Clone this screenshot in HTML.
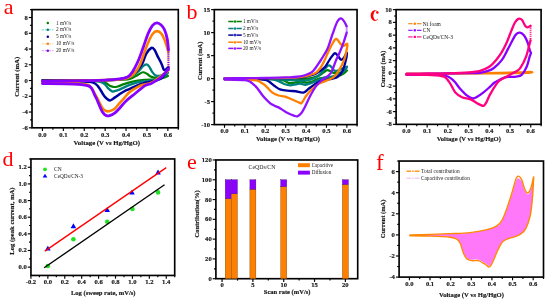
<!DOCTYPE html>
<html><head><meta charset="utf-8"><style>
html,body{margin:0;padding:0;background:#fff;width:550px;height:302px;overflow:hidden;}
svg{display:block;will-change:transform;}
</style></head><body>
<svg width="550" height="302" viewBox="0 0 550 302">
<rect width="550" height="302" fill="#fff"/>
<text x="8.7" y="6" font-size="22" font-weight="normal" text-anchor="middle" fill="#ff0000" font-family='"Liberation Serif", serif' dominant-baseline="central">a</text>
<text x="191.9" y="11.3" font-size="22" font-weight="normal" text-anchor="middle" fill="#ff0000" font-family='"Liberation Serif", serif' dominant-baseline="central">b</text>
<path d="M377.58,11.57 A4.15,5.35 0 1 0 377.88,19.13 L377.62,18.53 A2.45,4.45 0 1 1 377.37,12.14 Z" fill="#ff0000"/>
<circle cx="377.35" cy="12.55" r="1.25" fill="#ff0000"/>
<text x="8" y="158.3" font-size="22" font-weight="normal" text-anchor="middle" fill="#ff0000" font-family='"Liberation Serif", serif' dominant-baseline="central">d</text>
<text x="192" y="161.4" font-size="22" font-weight="normal" text-anchor="middle" fill="#ff0000" font-family='"Liberation Serif", serif' dominant-baseline="central">e</text>
<text x="379.8" y="162.4" font-size="23" font-weight="normal" text-anchor="middle" fill="#ff0000" font-family='"Liberation Serif", serif' dominant-baseline="central">f</text>
<line x1="42.45" y1="127.8" x2="42.45" y2="131" stroke="#000" stroke-width="1.15"/>
<text x="42.45" y="134" font-size="6.6" font-weight="bold" text-anchor="middle" fill="#1a1a1a" font-family='"Liberation Serif", serif' dominant-baseline="central" stroke="#1a1a1a" stroke-width="0.18">0.0</text>
<line x1="63.35" y1="127.8" x2="63.35" y2="131" stroke="#000" stroke-width="1.15"/>
<text x="63.35" y="134" font-size="6.6" font-weight="bold" text-anchor="middle" fill="#1a1a1a" font-family='"Liberation Serif", serif' dominant-baseline="central" stroke="#1a1a1a" stroke-width="0.18">0.1</text>
<line x1="84.25" y1="127.8" x2="84.25" y2="131" stroke="#000" stroke-width="1.15"/>
<text x="84.25" y="134" font-size="6.6" font-weight="bold" text-anchor="middle" fill="#1a1a1a" font-family='"Liberation Serif", serif' dominant-baseline="central" stroke="#1a1a1a" stroke-width="0.18">0.2</text>
<line x1="105.15" y1="127.8" x2="105.15" y2="131" stroke="#000" stroke-width="1.15"/>
<text x="105.15" y="134" font-size="6.6" font-weight="bold" text-anchor="middle" fill="#1a1a1a" font-family='"Liberation Serif", serif' dominant-baseline="central" stroke="#1a1a1a" stroke-width="0.18">0.3</text>
<line x1="126.05" y1="127.8" x2="126.05" y2="131" stroke="#000" stroke-width="1.15"/>
<text x="126.05" y="134" font-size="6.6" font-weight="bold" text-anchor="middle" fill="#1a1a1a" font-family='"Liberation Serif", serif' dominant-baseline="central" stroke="#1a1a1a" stroke-width="0.18">0.4</text>
<line x1="146.95" y1="127.8" x2="146.95" y2="131" stroke="#000" stroke-width="1.15"/>
<text x="146.95" y="134" font-size="6.6" font-weight="bold" text-anchor="middle" fill="#1a1a1a" font-family='"Liberation Serif", serif' dominant-baseline="central" stroke="#1a1a1a" stroke-width="0.18">0.5</text>
<line x1="167.85" y1="127.8" x2="167.85" y2="131" stroke="#000" stroke-width="1.15"/>
<text x="167.85" y="134" font-size="6.6" font-weight="bold" text-anchor="middle" fill="#1a1a1a" font-family='"Liberation Serif", serif' dominant-baseline="central" stroke="#1a1a1a" stroke-width="0.18">0.6</text>
<line x1="52.9" y1="127.8" x2="52.9" y2="129.7" stroke="#000" stroke-width="1.15"/>
<line x1="73.8" y1="127.8" x2="73.8" y2="129.7" stroke="#000" stroke-width="1.15"/>
<line x1="94.7" y1="127.8" x2="94.7" y2="129.7" stroke="#000" stroke-width="1.15"/>
<line x1="115.6" y1="127.8" x2="115.6" y2="129.7" stroke="#000" stroke-width="1.15"/>
<line x1="136.5" y1="127.8" x2="136.5" y2="129.7" stroke="#000" stroke-width="1.15"/>
<line x1="157.4" y1="127.8" x2="157.4" y2="129.7" stroke="#000" stroke-width="1.15"/>
<line x1="178.3" y1="127.8" x2="178.3" y2="129.7" stroke="#000" stroke-width="1.15"/>
<line x1="32" y1="127.8" x2="28.8" y2="127.8" stroke="#000" stroke-width="1.15"/>
<text x="27.8" y="127.3" font-size="6.6" font-weight="bold" text-anchor="end" fill="#1a1a1a" font-family='"Liberation Serif", serif' dominant-baseline="central" stroke="#1a1a1a" stroke-width="0.18">-6</text>
<line x1="32" y1="112.04" x2="28.8" y2="112.04" stroke="#000" stroke-width="1.15"/>
<text x="27.8" y="111.54" font-size="6.6" font-weight="bold" text-anchor="end" fill="#1a1a1a" font-family='"Liberation Serif", serif' dominant-baseline="central" stroke="#1a1a1a" stroke-width="0.18">-4</text>
<line x1="32" y1="96.29" x2="28.8" y2="96.29" stroke="#000" stroke-width="1.15"/>
<text x="27.8" y="95.79" font-size="6.6" font-weight="bold" text-anchor="end" fill="#1a1a1a" font-family='"Liberation Serif", serif' dominant-baseline="central" stroke="#1a1a1a" stroke-width="0.18">-2</text>
<line x1="32" y1="80.53" x2="28.8" y2="80.53" stroke="#000" stroke-width="1.15"/>
<text x="27.8" y="80.03" font-size="6.6" font-weight="bold" text-anchor="end" fill="#1a1a1a" font-family='"Liberation Serif", serif' dominant-baseline="central" stroke="#1a1a1a" stroke-width="0.18">0</text>
<line x1="32" y1="64.78" x2="28.8" y2="64.78" stroke="#000" stroke-width="1.15"/>
<text x="27.8" y="64.28" font-size="6.6" font-weight="bold" text-anchor="end" fill="#1a1a1a" font-family='"Liberation Serif", serif' dominant-baseline="central" stroke="#1a1a1a" stroke-width="0.18">2</text>
<line x1="32" y1="49.02" x2="28.8" y2="49.02" stroke="#000" stroke-width="1.15"/>
<text x="27.8" y="48.52" font-size="6.6" font-weight="bold" text-anchor="end" fill="#1a1a1a" font-family='"Liberation Serif", serif' dominant-baseline="central" stroke="#1a1a1a" stroke-width="0.18">4</text>
<line x1="32" y1="33.26" x2="28.8" y2="33.26" stroke="#000" stroke-width="1.15"/>
<text x="27.8" y="32.76" font-size="6.6" font-weight="bold" text-anchor="end" fill="#1a1a1a" font-family='"Liberation Serif", serif' dominant-baseline="central" stroke="#1a1a1a" stroke-width="0.18">6</text>
<line x1="32" y1="17.51" x2="28.8" y2="17.51" stroke="#000" stroke-width="1.15"/>
<text x="27.8" y="17.01" font-size="6.6" font-weight="bold" text-anchor="end" fill="#1a1a1a" font-family='"Liberation Serif", serif' dominant-baseline="central" stroke="#1a1a1a" stroke-width="0.18">8</text>
<line x1="32" y1="119.92" x2="30.1" y2="119.92" stroke="#000" stroke-width="1.15"/>
<line x1="32" y1="104.17" x2="30.1" y2="104.17" stroke="#000" stroke-width="1.15"/>
<line x1="32" y1="88.41" x2="30.1" y2="88.41" stroke="#000" stroke-width="1.15"/>
<line x1="32" y1="72.65" x2="30.1" y2="72.65" stroke="#000" stroke-width="1.15"/>
<line x1="32" y1="56.9" x2="30.1" y2="56.9" stroke="#000" stroke-width="1.15"/>
<line x1="32" y1="41.14" x2="30.1" y2="41.14" stroke="#000" stroke-width="1.15"/>
<line x1="32" y1="25.39" x2="30.1" y2="25.39" stroke="#000" stroke-width="1.15"/>
<line x1="32" y1="9.63" x2="30.1" y2="9.63" stroke="#000" stroke-width="1.15"/>
<rect x="32" y="9.63" width="146.3" height="118.17" fill="none" stroke="#000" stroke-width="1.65"/>
<text x="106.8" y="142.7" font-size="7.1" font-weight="bold" text-anchor="middle" fill="#1a1a1a" font-family='"Liberation Serif", serif' dominant-baseline="central" textLength="66.4" lengthAdjust="spacingAndGlyphs" stroke="#1a1a1a" stroke-width="0.18">Voltage (V vs Hg/HgO)</text>
<text x="17.3" y="76.8" font-size="7.0" font-weight="bold" text-anchor="middle" fill="#1a1a1a" font-family='"Liberation Serif", serif' dominant-baseline="central" textLength="40" lengthAdjust="spacingAndGlyphs" stroke="#1a1a1a" stroke-width="0.18" transform="rotate(-90 17.3 76.8)">Current (mA)</text>
<line x1="224.5" y1="124.6" x2="224.5" y2="127.8" stroke="#000" stroke-width="1.15"/>
<text x="224.5" y="130.8" font-size="6.6" font-weight="bold" text-anchor="middle" fill="#1a1a1a" font-family='"Liberation Serif", serif' dominant-baseline="central" stroke="#1a1a1a" stroke-width="0.18">0.0</text>
<line x1="244.89" y1="124.6" x2="244.89" y2="127.8" stroke="#000" stroke-width="1.15"/>
<text x="244.89" y="130.8" font-size="6.6" font-weight="bold" text-anchor="middle" fill="#1a1a1a" font-family='"Liberation Serif", serif' dominant-baseline="central" stroke="#1a1a1a" stroke-width="0.18">0.1</text>
<line x1="265.28" y1="124.6" x2="265.28" y2="127.8" stroke="#000" stroke-width="1.15"/>
<text x="265.28" y="130.8" font-size="6.6" font-weight="bold" text-anchor="middle" fill="#1a1a1a" font-family='"Liberation Serif", serif' dominant-baseline="central" stroke="#1a1a1a" stroke-width="0.18">0.2</text>
<line x1="285.68" y1="124.6" x2="285.68" y2="127.8" stroke="#000" stroke-width="1.15"/>
<text x="285.68" y="130.8" font-size="6.6" font-weight="bold" text-anchor="middle" fill="#1a1a1a" font-family='"Liberation Serif", serif' dominant-baseline="central" stroke="#1a1a1a" stroke-width="0.18">0.3</text>
<line x1="306.07" y1="124.6" x2="306.07" y2="127.8" stroke="#000" stroke-width="1.15"/>
<text x="306.07" y="130.8" font-size="6.6" font-weight="bold" text-anchor="middle" fill="#1a1a1a" font-family='"Liberation Serif", serif' dominant-baseline="central" stroke="#1a1a1a" stroke-width="0.18">0.4</text>
<line x1="326.46" y1="124.6" x2="326.46" y2="127.8" stroke="#000" stroke-width="1.15"/>
<text x="326.46" y="130.8" font-size="6.6" font-weight="bold" text-anchor="middle" fill="#1a1a1a" font-family='"Liberation Serif", serif' dominant-baseline="central" stroke="#1a1a1a" stroke-width="0.18">0.5</text>
<line x1="346.85" y1="124.6" x2="346.85" y2="127.8" stroke="#000" stroke-width="1.15"/>
<text x="346.85" y="130.8" font-size="6.6" font-weight="bold" text-anchor="middle" fill="#1a1a1a" font-family='"Liberation Serif", serif' dominant-baseline="central" stroke="#1a1a1a" stroke-width="0.18">0.6</text>
<line x1="234.69" y1="124.6" x2="234.69" y2="126.5" stroke="#000" stroke-width="1.15"/>
<line x1="255.09" y1="124.6" x2="255.09" y2="126.5" stroke="#000" stroke-width="1.15"/>
<line x1="275.48" y1="124.6" x2="275.48" y2="126.5" stroke="#000" stroke-width="1.15"/>
<line x1="295.87" y1="124.6" x2="295.87" y2="126.5" stroke="#000" stroke-width="1.15"/>
<line x1="316.26" y1="124.6" x2="316.26" y2="126.5" stroke="#000" stroke-width="1.15"/>
<line x1="336.66" y1="124.6" x2="336.66" y2="126.5" stroke="#000" stroke-width="1.15"/>
<line x1="357.05" y1="124.6" x2="357.05" y2="126.5" stroke="#000" stroke-width="1.15"/>
<line x1="214.3" y1="124.6" x2="211.1" y2="124.6" stroke="#000" stroke-width="1.15"/>
<text x="210.1" y="124.1" font-size="6.6" font-weight="bold" text-anchor="end" fill="#1a1a1a" font-family='"Liberation Serif", serif' dominant-baseline="central" stroke="#1a1a1a" stroke-width="0.18">-10</text>
<line x1="214.3" y1="101.61" x2="211.1" y2="101.61" stroke="#000" stroke-width="1.15"/>
<text x="210.1" y="101.11" font-size="6.6" font-weight="bold" text-anchor="end" fill="#1a1a1a" font-family='"Liberation Serif", serif' dominant-baseline="central" stroke="#1a1a1a" stroke-width="0.18">-5</text>
<line x1="214.3" y1="78.61" x2="211.1" y2="78.61" stroke="#000" stroke-width="1.15"/>
<text x="210.1" y="78.11" font-size="6.6" font-weight="bold" text-anchor="end" fill="#1a1a1a" font-family='"Liberation Serif", serif' dominant-baseline="central" stroke="#1a1a1a" stroke-width="0.18">0</text>
<line x1="214.3" y1="55.62" x2="211.1" y2="55.62" stroke="#000" stroke-width="1.15"/>
<text x="210.1" y="55.12" font-size="6.6" font-weight="bold" text-anchor="end" fill="#1a1a1a" font-family='"Liberation Serif", serif' dominant-baseline="central" stroke="#1a1a1a" stroke-width="0.18">5</text>
<line x1="214.3" y1="32.62" x2="211.1" y2="32.62" stroke="#000" stroke-width="1.15"/>
<text x="210.1" y="32.12" font-size="6.6" font-weight="bold" text-anchor="end" fill="#1a1a1a" font-family='"Liberation Serif", serif' dominant-baseline="central" stroke="#1a1a1a" stroke-width="0.18">10</text>
<line x1="214.3" y1="9.63" x2="211.1" y2="9.63" stroke="#000" stroke-width="1.15"/>
<text x="210.1" y="9.13" font-size="6.6" font-weight="bold" text-anchor="end" fill="#1a1a1a" font-family='"Liberation Serif", serif' dominant-baseline="central" stroke="#1a1a1a" stroke-width="0.18">15</text>
<line x1="214.3" y1="113.1" x2="212.4" y2="113.1" stroke="#000" stroke-width="1.15"/>
<line x1="214.3" y1="90.11" x2="212.4" y2="90.11" stroke="#000" stroke-width="1.15"/>
<line x1="214.3" y1="67.11" x2="212.4" y2="67.11" stroke="#000" stroke-width="1.15"/>
<line x1="214.3" y1="44.12" x2="212.4" y2="44.12" stroke="#000" stroke-width="1.15"/>
<line x1="214.3" y1="21.13" x2="212.4" y2="21.13" stroke="#000" stroke-width="1.15"/>
<rect x="214.3" y="9.63" width="142.75" height="114.97" fill="none" stroke="#000" stroke-width="1.65"/>
<text x="288" y="139" font-size="7.1" font-weight="bold" text-anchor="middle" fill="#1a1a1a" font-family='"Liberation Serif", serif' dominant-baseline="central" textLength="64" lengthAdjust="spacingAndGlyphs" stroke="#1a1a1a" stroke-width="0.18">Voltage (V vs Hg/HgO)</text>
<text x="200.3" y="60.8" font-size="7.0" font-weight="bold" text-anchor="middle" fill="#1a1a1a" font-family='"Liberation Serif", serif' dominant-baseline="central" textLength="38.4" lengthAdjust="spacingAndGlyphs" stroke="#1a1a1a" stroke-width="0.18" transform="rotate(-90 200.3 60.8)">Current (mA)</text>
<line x1="406.46" y1="124.35" x2="406.46" y2="127.55" stroke="#000" stroke-width="1.15"/>
<text x="406.46" y="130.55" font-size="6.6" font-weight="bold" text-anchor="middle" fill="#1a1a1a" font-family='"Liberation Serif", serif' dominant-baseline="central" stroke="#1a1a1a" stroke-width="0.18">0.0</text>
<line x1="427.17" y1="124.35" x2="427.17" y2="127.55" stroke="#000" stroke-width="1.15"/>
<text x="427.17" y="130.55" font-size="6.6" font-weight="bold" text-anchor="middle" fill="#1a1a1a" font-family='"Liberation Serif", serif' dominant-baseline="central" stroke="#1a1a1a" stroke-width="0.18">0.1</text>
<line x1="447.89" y1="124.35" x2="447.89" y2="127.55" stroke="#000" stroke-width="1.15"/>
<text x="447.89" y="130.55" font-size="6.6" font-weight="bold" text-anchor="middle" fill="#1a1a1a" font-family='"Liberation Serif", serif' dominant-baseline="central" stroke="#1a1a1a" stroke-width="0.18">0.2</text>
<line x1="468.6" y1="124.35" x2="468.6" y2="127.55" stroke="#000" stroke-width="1.15"/>
<text x="468.6" y="130.55" font-size="6.6" font-weight="bold" text-anchor="middle" fill="#1a1a1a" font-family='"Liberation Serif", serif' dominant-baseline="central" stroke="#1a1a1a" stroke-width="0.18">0.3</text>
<line x1="489.31" y1="124.35" x2="489.31" y2="127.55" stroke="#000" stroke-width="1.15"/>
<text x="489.31" y="130.55" font-size="6.6" font-weight="bold" text-anchor="middle" fill="#1a1a1a" font-family='"Liberation Serif", serif' dominant-baseline="central" stroke="#1a1a1a" stroke-width="0.18">0.4</text>
<line x1="510.03" y1="124.35" x2="510.03" y2="127.55" stroke="#000" stroke-width="1.15"/>
<text x="510.03" y="130.55" font-size="6.6" font-weight="bold" text-anchor="middle" fill="#1a1a1a" font-family='"Liberation Serif", serif' dominant-baseline="central" stroke="#1a1a1a" stroke-width="0.18">0.5</text>
<line x1="530.74" y1="124.35" x2="530.74" y2="127.55" stroke="#000" stroke-width="1.15"/>
<text x="530.74" y="130.55" font-size="6.6" font-weight="bold" text-anchor="middle" fill="#1a1a1a" font-family='"Liberation Serif", serif' dominant-baseline="central" stroke="#1a1a1a" stroke-width="0.18">0.6</text>
<line x1="416.81" y1="124.35" x2="416.81" y2="126.25" stroke="#000" stroke-width="1.15"/>
<line x1="437.53" y1="124.35" x2="437.53" y2="126.25" stroke="#000" stroke-width="1.15"/>
<line x1="458.24" y1="124.35" x2="458.24" y2="126.25" stroke="#000" stroke-width="1.15"/>
<line x1="478.96" y1="124.35" x2="478.96" y2="126.25" stroke="#000" stroke-width="1.15"/>
<line x1="499.67" y1="124.35" x2="499.67" y2="126.25" stroke="#000" stroke-width="1.15"/>
<line x1="520.39" y1="124.35" x2="520.39" y2="126.25" stroke="#000" stroke-width="1.15"/>
<line x1="541.1" y1="124.35" x2="541.1" y2="126.25" stroke="#000" stroke-width="1.15"/>
<line x1="396.1" y1="124.35" x2="392.9" y2="124.35" stroke="#000" stroke-width="1.15"/>
<text x="391.9" y="123.85" font-size="6.6" font-weight="bold" text-anchor="end" fill="#1a1a1a" font-family='"Liberation Serif", serif' dominant-baseline="central" stroke="#1a1a1a" stroke-width="0.18">-8</text>
<line x1="396.1" y1="111.61" x2="392.9" y2="111.61" stroke="#000" stroke-width="1.15"/>
<text x="391.9" y="111.11" font-size="6.6" font-weight="bold" text-anchor="end" fill="#1a1a1a" font-family='"Liberation Serif", serif' dominant-baseline="central" stroke="#1a1a1a" stroke-width="0.18">-6</text>
<line x1="396.1" y1="98.86" x2="392.9" y2="98.86" stroke="#000" stroke-width="1.15"/>
<text x="391.9" y="98.36" font-size="6.6" font-weight="bold" text-anchor="end" fill="#1a1a1a" font-family='"Liberation Serif", serif' dominant-baseline="central" stroke="#1a1a1a" stroke-width="0.18">-4</text>
<line x1="396.1" y1="86.12" x2="392.9" y2="86.12" stroke="#000" stroke-width="1.15"/>
<text x="391.9" y="85.62" font-size="6.6" font-weight="bold" text-anchor="end" fill="#1a1a1a" font-family='"Liberation Serif", serif' dominant-baseline="central" stroke="#1a1a1a" stroke-width="0.18">-2</text>
<line x1="396.1" y1="73.37" x2="392.9" y2="73.37" stroke="#000" stroke-width="1.15"/>
<text x="391.9" y="72.87" font-size="6.6" font-weight="bold" text-anchor="end" fill="#1a1a1a" font-family='"Liberation Serif", serif' dominant-baseline="central" stroke="#1a1a1a" stroke-width="0.18">0</text>
<line x1="396.1" y1="60.63" x2="392.9" y2="60.63" stroke="#000" stroke-width="1.15"/>
<text x="391.9" y="60.13" font-size="6.6" font-weight="bold" text-anchor="end" fill="#1a1a1a" font-family='"Liberation Serif", serif' dominant-baseline="central" stroke="#1a1a1a" stroke-width="0.18">2</text>
<line x1="396.1" y1="47.88" x2="392.9" y2="47.88" stroke="#000" stroke-width="1.15"/>
<text x="391.9" y="47.38" font-size="6.6" font-weight="bold" text-anchor="end" fill="#1a1a1a" font-family='"Liberation Serif", serif' dominant-baseline="central" stroke="#1a1a1a" stroke-width="0.18">4</text>
<line x1="396.1" y1="35.14" x2="392.9" y2="35.14" stroke="#000" stroke-width="1.15"/>
<text x="391.9" y="34.64" font-size="6.6" font-weight="bold" text-anchor="end" fill="#1a1a1a" font-family='"Liberation Serif", serif' dominant-baseline="central" stroke="#1a1a1a" stroke-width="0.18">6</text>
<line x1="396.1" y1="22.39" x2="392.9" y2="22.39" stroke="#000" stroke-width="1.15"/>
<text x="391.9" y="21.89" font-size="6.6" font-weight="bold" text-anchor="end" fill="#1a1a1a" font-family='"Liberation Serif", serif' dominant-baseline="central" stroke="#1a1a1a" stroke-width="0.18">8</text>
<line x1="396.1" y1="9.65" x2="392.9" y2="9.65" stroke="#000" stroke-width="1.15"/>
<text x="391.9" y="9.15" font-size="6.6" font-weight="bold" text-anchor="end" fill="#1a1a1a" font-family='"Liberation Serif", serif' dominant-baseline="central" stroke="#1a1a1a" stroke-width="0.18">10</text>
<line x1="396.1" y1="117.98" x2="394.2" y2="117.98" stroke="#000" stroke-width="1.15"/>
<line x1="396.1" y1="105.23" x2="394.2" y2="105.23" stroke="#000" stroke-width="1.15"/>
<line x1="396.1" y1="92.49" x2="394.2" y2="92.49" stroke="#000" stroke-width="1.15"/>
<line x1="396.1" y1="79.74" x2="394.2" y2="79.74" stroke="#000" stroke-width="1.15"/>
<line x1="396.1" y1="67" x2="394.2" y2="67" stroke="#000" stroke-width="1.15"/>
<line x1="396.1" y1="54.26" x2="394.2" y2="54.26" stroke="#000" stroke-width="1.15"/>
<line x1="396.1" y1="41.51" x2="394.2" y2="41.51" stroke="#000" stroke-width="1.15"/>
<line x1="396.1" y1="28.77" x2="394.2" y2="28.77" stroke="#000" stroke-width="1.15"/>
<line x1="396.1" y1="16.02" x2="394.2" y2="16.02" stroke="#000" stroke-width="1.15"/>
<rect x="396.1" y="9.65" width="145" height="114.7" fill="none" stroke="#000" stroke-width="1.65"/>
<text x="468.8" y="139" font-size="7.1" font-weight="bold" text-anchor="middle" fill="#1a1a1a" font-family='"Liberation Serif", serif' dominant-baseline="central" textLength="64.2" lengthAdjust="spacingAndGlyphs" stroke="#1a1a1a" stroke-width="0.18">Voltage (V vs Hg/HgO)</text>
<text x="383.3" y="69" font-size="7.0" font-weight="bold" text-anchor="middle" fill="#1a1a1a" font-family='"Liberation Serif", serif' dominant-baseline="central" textLength="36.4" lengthAdjust="spacingAndGlyphs" stroke="#1a1a1a" stroke-width="0.18" transform="rotate(-90 383.3 69)">Current (mA)</text>
<line x1="30.95" y1="275.45" x2="30.95" y2="278.65" stroke="#000" stroke-width="1.15"/>
<text x="30.95" y="281.65" font-size="6.6" font-weight="bold" text-anchor="middle" fill="#1a1a1a" font-family='"Liberation Serif", serif' dominant-baseline="central" stroke="#1a1a1a" stroke-width="0.18">-0.2</text>
<line x1="47.86" y1="275.45" x2="47.86" y2="278.65" stroke="#000" stroke-width="1.15"/>
<text x="47.86" y="281.65" font-size="6.6" font-weight="bold" text-anchor="middle" fill="#1a1a1a" font-family='"Liberation Serif", serif' dominant-baseline="central" stroke="#1a1a1a" stroke-width="0.18">0.0</text>
<line x1="64.77" y1="275.45" x2="64.77" y2="278.65" stroke="#000" stroke-width="1.15"/>
<text x="64.77" y="281.65" font-size="6.6" font-weight="bold" text-anchor="middle" fill="#1a1a1a" font-family='"Liberation Serif", serif' dominant-baseline="central" stroke="#1a1a1a" stroke-width="0.18">0.2</text>
<line x1="81.69" y1="275.45" x2="81.69" y2="278.65" stroke="#000" stroke-width="1.15"/>
<text x="81.69" y="281.65" font-size="6.6" font-weight="bold" text-anchor="middle" fill="#1a1a1a" font-family='"Liberation Serif", serif' dominant-baseline="central" stroke="#1a1a1a" stroke-width="0.18">0.4</text>
<line x1="98.6" y1="275.45" x2="98.6" y2="278.65" stroke="#000" stroke-width="1.15"/>
<text x="98.6" y="281.65" font-size="6.6" font-weight="bold" text-anchor="middle" fill="#1a1a1a" font-family='"Liberation Serif", serif' dominant-baseline="central" stroke="#1a1a1a" stroke-width="0.18">0.6</text>
<line x1="115.51" y1="275.45" x2="115.51" y2="278.65" stroke="#000" stroke-width="1.15"/>
<text x="115.51" y="281.65" font-size="6.6" font-weight="bold" text-anchor="middle" fill="#1a1a1a" font-family='"Liberation Serif", serif' dominant-baseline="central" stroke="#1a1a1a" stroke-width="0.18">0.8</text>
<line x1="132.42" y1="275.45" x2="132.42" y2="278.65" stroke="#000" stroke-width="1.15"/>
<text x="132.42" y="281.65" font-size="6.6" font-weight="bold" text-anchor="middle" fill="#1a1a1a" font-family='"Liberation Serif", serif' dominant-baseline="central" stroke="#1a1a1a" stroke-width="0.18">1.0</text>
<line x1="149.33" y1="275.45" x2="149.33" y2="278.65" stroke="#000" stroke-width="1.15"/>
<text x="149.33" y="281.65" font-size="6.6" font-weight="bold" text-anchor="middle" fill="#1a1a1a" font-family='"Liberation Serif", serif' dominant-baseline="central" stroke="#1a1a1a" stroke-width="0.18">1.2</text>
<line x1="166.24" y1="275.45" x2="166.24" y2="278.65" stroke="#000" stroke-width="1.15"/>
<text x="166.24" y="281.65" font-size="6.6" font-weight="bold" text-anchor="middle" fill="#1a1a1a" font-family='"Liberation Serif", serif' dominant-baseline="central" stroke="#1a1a1a" stroke-width="0.18">1.4</text>
<line x1="39.41" y1="275.45" x2="39.41" y2="277.35" stroke="#000" stroke-width="1.15"/>
<line x1="56.32" y1="275.45" x2="56.32" y2="277.35" stroke="#000" stroke-width="1.15"/>
<line x1="73.23" y1="275.45" x2="73.23" y2="277.35" stroke="#000" stroke-width="1.15"/>
<line x1="90.14" y1="275.45" x2="90.14" y2="277.35" stroke="#000" stroke-width="1.15"/>
<line x1="107.05" y1="275.45" x2="107.05" y2="277.35" stroke="#000" stroke-width="1.15"/>
<line x1="123.96" y1="275.45" x2="123.96" y2="277.35" stroke="#000" stroke-width="1.15"/>
<line x1="140.88" y1="275.45" x2="140.88" y2="277.35" stroke="#000" stroke-width="1.15"/>
<line x1="157.79" y1="275.45" x2="157.79" y2="277.35" stroke="#000" stroke-width="1.15"/>
<line x1="174.7" y1="275.45" x2="174.7" y2="277.35" stroke="#000" stroke-width="1.15"/>
<line x1="30.95" y1="267.13" x2="27.75" y2="267.13" stroke="#000" stroke-width="1.15"/>
<text x="26.75" y="266.63" font-size="6.6" font-weight="bold" text-anchor="end" fill="#1a1a1a" font-family='"Liberation Serif", serif' dominant-baseline="central" stroke="#1a1a1a" stroke-width="0.18">0.0</text>
<line x1="30.95" y1="250.49" x2="27.75" y2="250.49" stroke="#000" stroke-width="1.15"/>
<text x="26.75" y="249.99" font-size="6.6" font-weight="bold" text-anchor="end" fill="#1a1a1a" font-family='"Liberation Serif", serif' dominant-baseline="central" stroke="#1a1a1a" stroke-width="0.18">0.2</text>
<line x1="30.95" y1="233.84" x2="27.75" y2="233.84" stroke="#000" stroke-width="1.15"/>
<text x="26.75" y="233.34" font-size="6.6" font-weight="bold" text-anchor="end" fill="#1a1a1a" font-family='"Liberation Serif", serif' dominant-baseline="central" stroke="#1a1a1a" stroke-width="0.18">0.4</text>
<line x1="30.95" y1="217.2" x2="27.75" y2="217.2" stroke="#000" stroke-width="1.15"/>
<text x="26.75" y="216.7" font-size="6.6" font-weight="bold" text-anchor="end" fill="#1a1a1a" font-family='"Liberation Serif", serif' dominant-baseline="central" stroke="#1a1a1a" stroke-width="0.18">0.6</text>
<line x1="30.95" y1="200.56" x2="27.75" y2="200.56" stroke="#000" stroke-width="1.15"/>
<text x="26.75" y="200.06" font-size="6.6" font-weight="bold" text-anchor="end" fill="#1a1a1a" font-family='"Liberation Serif", serif' dominant-baseline="central" stroke="#1a1a1a" stroke-width="0.18">0.8</text>
<line x1="30.95" y1="183.91" x2="27.75" y2="183.91" stroke="#000" stroke-width="1.15"/>
<text x="26.75" y="183.41" font-size="6.6" font-weight="bold" text-anchor="end" fill="#1a1a1a" font-family='"Liberation Serif", serif' dominant-baseline="central" stroke="#1a1a1a" stroke-width="0.18">1.0</text>
<line x1="30.95" y1="167.27" x2="27.75" y2="167.27" stroke="#000" stroke-width="1.15"/>
<text x="26.75" y="166.77" font-size="6.6" font-weight="bold" text-anchor="end" fill="#1a1a1a" font-family='"Liberation Serif", serif' dominant-baseline="central" stroke="#1a1a1a" stroke-width="0.18">1.2</text>
<line x1="30.95" y1="258.81" x2="29.05" y2="258.81" stroke="#000" stroke-width="1.15"/>
<line x1="30.95" y1="242.16" x2="29.05" y2="242.16" stroke="#000" stroke-width="1.15"/>
<line x1="30.95" y1="225.52" x2="29.05" y2="225.52" stroke="#000" stroke-width="1.15"/>
<line x1="30.95" y1="208.88" x2="29.05" y2="208.88" stroke="#000" stroke-width="1.15"/>
<line x1="30.95" y1="192.24" x2="29.05" y2="192.24" stroke="#000" stroke-width="1.15"/>
<line x1="30.95" y1="175.59" x2="29.05" y2="175.59" stroke="#000" stroke-width="1.15"/>
<line x1="30.95" y1="158.95" x2="29.05" y2="158.95" stroke="#000" stroke-width="1.15"/>
<rect x="30.95" y="158.95" width="143.75" height="116.5" fill="none" stroke="#000" stroke-width="1.65"/>
<text x="103.2" y="292.8" font-size="7.1" font-weight="bold" text-anchor="middle" fill="#1a1a1a" font-family='"Liberation Serif", serif' dominant-baseline="central" textLength="64.6" lengthAdjust="spacingAndGlyphs" stroke="#1a1a1a" stroke-width="0.18">Log (sweep rate, mV/s)</text>
<text x="11.6" y="221.1" font-size="7.0" font-weight="bold" text-anchor="middle" fill="#1a1a1a" font-family='"Liberation Serif", serif' dominant-baseline="central" textLength="67.3" lengthAdjust="spacingAndGlyphs" stroke="#1a1a1a" stroke-width="0.18" transform="rotate(-90 11.6 221.1)">Log (peak current, mA)</text>
<line x1="222.07" y1="278.7" x2="222.07" y2="281.9" stroke="#000" stroke-width="1.15"/>
<text x="222.07" y="284.9" font-size="6.6" font-weight="bold" text-anchor="middle" fill="#1a1a1a" font-family='"Liberation Serif", serif' dominant-baseline="central" stroke="#1a1a1a" stroke-width="0.18">0</text>
<line x1="252.89" y1="278.7" x2="252.89" y2="281.9" stroke="#000" stroke-width="1.15"/>
<text x="252.89" y="284.9" font-size="6.6" font-weight="bold" text-anchor="middle" fill="#1a1a1a" font-family='"Liberation Serif", serif' dominant-baseline="central" stroke="#1a1a1a" stroke-width="0.18">5</text>
<line x1="283.72" y1="278.7" x2="283.72" y2="281.9" stroke="#000" stroke-width="1.15"/>
<text x="283.72" y="284.9" font-size="6.6" font-weight="bold" text-anchor="middle" fill="#1a1a1a" font-family='"Liberation Serif", serif' dominant-baseline="central" stroke="#1a1a1a" stroke-width="0.18">10</text>
<line x1="314.54" y1="278.7" x2="314.54" y2="281.9" stroke="#000" stroke-width="1.15"/>
<text x="314.54" y="284.9" font-size="6.6" font-weight="bold" text-anchor="middle" fill="#1a1a1a" font-family='"Liberation Serif", serif' dominant-baseline="central" stroke="#1a1a1a" stroke-width="0.18">15</text>
<line x1="345.37" y1="278.7" x2="345.37" y2="281.9" stroke="#000" stroke-width="1.15"/>
<text x="345.37" y="284.9" font-size="6.6" font-weight="bold" text-anchor="middle" fill="#1a1a1a" font-family='"Liberation Serif", serif' dominant-baseline="central" stroke="#1a1a1a" stroke-width="0.18">20</text>
<line x1="237.48" y1="278.7" x2="237.48" y2="280.6" stroke="#000" stroke-width="1.15"/>
<line x1="268.3" y1="278.7" x2="268.3" y2="280.6" stroke="#000" stroke-width="1.15"/>
<line x1="299.13" y1="278.7" x2="299.13" y2="280.6" stroke="#000" stroke-width="1.15"/>
<line x1="329.96" y1="278.7" x2="329.96" y2="280.6" stroke="#000" stroke-width="1.15"/>
<line x1="215.9" y1="278.7" x2="212.7" y2="278.7" stroke="#000" stroke-width="1.15"/>
<text x="211.7" y="278.2" font-size="6.6" font-weight="bold" text-anchor="end" fill="#1a1a1a" font-family='"Liberation Serif", serif' dominant-baseline="central" stroke="#1a1a1a" stroke-width="0.18">0</text>
<line x1="215.9" y1="258.91" x2="212.7" y2="258.91" stroke="#000" stroke-width="1.15"/>
<text x="211.7" y="258.41" font-size="6.6" font-weight="bold" text-anchor="end" fill="#1a1a1a" font-family='"Liberation Serif", serif' dominant-baseline="central" stroke="#1a1a1a" stroke-width="0.18">20</text>
<line x1="215.9" y1="239.12" x2="212.7" y2="239.12" stroke="#000" stroke-width="1.15"/>
<text x="211.7" y="238.62" font-size="6.6" font-weight="bold" text-anchor="end" fill="#1a1a1a" font-family='"Liberation Serif", serif' dominant-baseline="central" stroke="#1a1a1a" stroke-width="0.18">40</text>
<line x1="215.9" y1="219.33" x2="212.7" y2="219.33" stroke="#000" stroke-width="1.15"/>
<text x="211.7" y="218.83" font-size="6.6" font-weight="bold" text-anchor="end" fill="#1a1a1a" font-family='"Liberation Serif", serif' dominant-baseline="central" stroke="#1a1a1a" stroke-width="0.18">60</text>
<line x1="215.9" y1="199.55" x2="212.7" y2="199.55" stroke="#000" stroke-width="1.15"/>
<text x="211.7" y="199.05" font-size="6.6" font-weight="bold" text-anchor="end" fill="#1a1a1a" font-family='"Liberation Serif", serif' dominant-baseline="central" stroke="#1a1a1a" stroke-width="0.18">80</text>
<line x1="215.9" y1="179.76" x2="212.7" y2="179.76" stroke="#000" stroke-width="1.15"/>
<text x="211.7" y="179.26" font-size="6.6" font-weight="bold" text-anchor="end" fill="#1a1a1a" font-family='"Liberation Serif", serif' dominant-baseline="central" stroke="#1a1a1a" stroke-width="0.18">100</text>
<line x1="215.9" y1="159.97" x2="212.7" y2="159.97" stroke="#000" stroke-width="1.15"/>
<text x="211.7" y="159.47" font-size="6.6" font-weight="bold" text-anchor="end" fill="#1a1a1a" font-family='"Liberation Serif", serif' dominant-baseline="central" stroke="#1a1a1a" stroke-width="0.18">120</text>
<line x1="215.9" y1="268.81" x2="214" y2="268.81" stroke="#000" stroke-width="1.15"/>
<line x1="215.9" y1="249.02" x2="214" y2="249.02" stroke="#000" stroke-width="1.15"/>
<line x1="215.9" y1="229.23" x2="214" y2="229.23" stroke="#000" stroke-width="1.15"/>
<line x1="215.9" y1="209.44" x2="214" y2="209.44" stroke="#000" stroke-width="1.15"/>
<line x1="215.9" y1="189.65" x2="214" y2="189.65" stroke="#000" stroke-width="1.15"/>
<line x1="215.9" y1="169.86" x2="214" y2="169.86" stroke="#000" stroke-width="1.15"/>
<rect x="215.9" y="159.97" width="141.8" height="118.73" fill="none" stroke="#000" stroke-width="1.65"/>
<text x="287.1" y="292.4" font-size="7.1" font-weight="bold" text-anchor="middle" fill="#1a1a1a" font-family='"Liberation Serif", serif' dominant-baseline="central" textLength="46.6" lengthAdjust="spacingAndGlyphs" stroke="#1a1a1a" stroke-width="0.18">Scan rate (mV/s)</text>
<text x="197.1" y="213.9" font-size="7.0" font-weight="bold" text-anchor="middle" fill="#1a1a1a" font-family='"Liberation Serif", serif' dominant-baseline="central" textLength="47" lengthAdjust="spacingAndGlyphs" stroke="#1a1a1a" stroke-width="0.18" transform="rotate(-90 197.1 213.9)">Contribution(%)</text>
<line x1="409.41" y1="277.1" x2="409.41" y2="280.3" stroke="#000" stroke-width="1.15"/>
<text x="409.41" y="283.3" font-size="6.6" font-weight="bold" text-anchor="middle" fill="#1a1a1a" font-family='"Liberation Serif", serif' dominant-baseline="central" stroke="#1a1a1a" stroke-width="0.18">0.0</text>
<line x1="430.04" y1="277.1" x2="430.04" y2="280.3" stroke="#000" stroke-width="1.15"/>
<text x="430.04" y="283.3" font-size="6.6" font-weight="bold" text-anchor="middle" fill="#1a1a1a" font-family='"Liberation Serif", serif' dominant-baseline="central" stroke="#1a1a1a" stroke-width="0.18">0.1</text>
<line x1="450.67" y1="277.1" x2="450.67" y2="280.3" stroke="#000" stroke-width="1.15"/>
<text x="450.67" y="283.3" font-size="6.6" font-weight="bold" text-anchor="middle" fill="#1a1a1a" font-family='"Liberation Serif", serif' dominant-baseline="central" stroke="#1a1a1a" stroke-width="0.18">0.2</text>
<line x1="471.3" y1="277.1" x2="471.3" y2="280.3" stroke="#000" stroke-width="1.15"/>
<text x="471.3" y="283.3" font-size="6.6" font-weight="bold" text-anchor="middle" fill="#1a1a1a" font-family='"Liberation Serif", serif' dominant-baseline="central" stroke="#1a1a1a" stroke-width="0.18">0.3</text>
<line x1="491.93" y1="277.1" x2="491.93" y2="280.3" stroke="#000" stroke-width="1.15"/>
<text x="491.93" y="283.3" font-size="6.6" font-weight="bold" text-anchor="middle" fill="#1a1a1a" font-family='"Liberation Serif", serif' dominant-baseline="central" stroke="#1a1a1a" stroke-width="0.18">0.4</text>
<line x1="512.56" y1="277.1" x2="512.56" y2="280.3" stroke="#000" stroke-width="1.15"/>
<text x="512.56" y="283.3" font-size="6.6" font-weight="bold" text-anchor="middle" fill="#1a1a1a" font-family='"Liberation Serif", serif' dominant-baseline="central" stroke="#1a1a1a" stroke-width="0.18">0.5</text>
<line x1="533.19" y1="277.1" x2="533.19" y2="280.3" stroke="#000" stroke-width="1.15"/>
<text x="533.19" y="283.3" font-size="6.6" font-weight="bold" text-anchor="middle" fill="#1a1a1a" font-family='"Liberation Serif", serif' dominant-baseline="central" stroke="#1a1a1a" stroke-width="0.18">0.6</text>
<line x1="419.73" y1="277.1" x2="419.73" y2="279" stroke="#000" stroke-width="1.15"/>
<line x1="440.36" y1="277.1" x2="440.36" y2="279" stroke="#000" stroke-width="1.15"/>
<line x1="460.99" y1="277.1" x2="460.99" y2="279" stroke="#000" stroke-width="1.15"/>
<line x1="481.61" y1="277.1" x2="481.61" y2="279" stroke="#000" stroke-width="1.15"/>
<line x1="502.24" y1="277.1" x2="502.24" y2="279" stroke="#000" stroke-width="1.15"/>
<line x1="522.87" y1="277.1" x2="522.87" y2="279" stroke="#000" stroke-width="1.15"/>
<line x1="543.5" y1="277.1" x2="543.5" y2="279" stroke="#000" stroke-width="1.15"/>
<line x1="399.1" y1="277.1" x2="395.9" y2="277.1" stroke="#000" stroke-width="1.15"/>
<text x="394.9" y="276.6" font-size="6.6" font-weight="bold" text-anchor="end" fill="#1a1a1a" font-family='"Liberation Serif", serif' dominant-baseline="central" stroke="#1a1a1a" stroke-width="0.18">-4</text>
<line x1="399.1" y1="256" x2="395.9" y2="256" stroke="#000" stroke-width="1.15"/>
<text x="394.9" y="255.5" font-size="6.6" font-weight="bold" text-anchor="end" fill="#1a1a1a" font-family='"Liberation Serif", serif' dominant-baseline="central" stroke="#1a1a1a" stroke-width="0.18">-2</text>
<line x1="399.1" y1="234.9" x2="395.9" y2="234.9" stroke="#000" stroke-width="1.15"/>
<text x="394.9" y="234.4" font-size="6.6" font-weight="bold" text-anchor="end" fill="#1a1a1a" font-family='"Liberation Serif", serif' dominant-baseline="central" stroke="#1a1a1a" stroke-width="0.18">0</text>
<line x1="399.1" y1="213.8" x2="395.9" y2="213.8" stroke="#000" stroke-width="1.15"/>
<text x="394.9" y="213.3" font-size="6.6" font-weight="bold" text-anchor="end" fill="#1a1a1a" font-family='"Liberation Serif", serif' dominant-baseline="central" stroke="#1a1a1a" stroke-width="0.18">2</text>
<line x1="399.1" y1="192.7" x2="395.9" y2="192.7" stroke="#000" stroke-width="1.15"/>
<text x="394.9" y="192.2" font-size="6.6" font-weight="bold" text-anchor="end" fill="#1a1a1a" font-family='"Liberation Serif", serif' dominant-baseline="central" stroke="#1a1a1a" stroke-width="0.18">4</text>
<line x1="399.1" y1="171.6" x2="395.9" y2="171.6" stroke="#000" stroke-width="1.15"/>
<text x="394.9" y="171.1" font-size="6.6" font-weight="bold" text-anchor="end" fill="#1a1a1a" font-family='"Liberation Serif", serif' dominant-baseline="central" stroke="#1a1a1a" stroke-width="0.18">6</text>
<line x1="399.1" y1="266.55" x2="397.2" y2="266.55" stroke="#000" stroke-width="1.15"/>
<line x1="399.1" y1="245.45" x2="397.2" y2="245.45" stroke="#000" stroke-width="1.15"/>
<line x1="399.1" y1="224.35" x2="397.2" y2="224.35" stroke="#000" stroke-width="1.15"/>
<line x1="399.1" y1="203.25" x2="397.2" y2="203.25" stroke="#000" stroke-width="1.15"/>
<line x1="399.1" y1="182.15" x2="397.2" y2="182.15" stroke="#000" stroke-width="1.15"/>
<line x1="399.1" y1="161.05" x2="397.2" y2="161.05" stroke="#000" stroke-width="1.15"/>
<rect x="399.1" y="161.05" width="144.4" height="116.05" fill="none" stroke="#000" stroke-width="1.65"/>
<text x="471.5" y="294.6" font-size="7.1" font-weight="bold" text-anchor="middle" fill="#1a1a1a" font-family='"Liberation Serif", serif' dominant-baseline="central" textLength="64.9" lengthAdjust="spacingAndGlyphs" stroke="#1a1a1a" stroke-width="0.18">Voltage (V vs Hg/HgO)</text>
<text x="383" y="218.9" font-size="7.0" font-weight="bold" text-anchor="middle" fill="#1a1a1a" font-family='"Liberation Serif", serif' dominant-baseline="central" textLength="38.7" lengthAdjust="spacingAndGlyphs" stroke="#1a1a1a" stroke-width="0.18" transform="rotate(-90 383 218.9)">Current (mA)</text>
<path d="M42.45,80.53 C49.42,80.52 73.8,80.49 84.25,80.45 C94.7,80.41 98.88,80.41 105.15,80.3 C111.42,80.18 117.76,79.95 121.87,79.74 C125.98,79.53 127.16,79.82 129.81,79.04 C132.46,78.25 135.59,76.15 137.75,75.02 C139.91,73.89 141.24,72.46 142.77,72.26 C144.3,72.06 145.73,73.18 146.95,73.84 C148.17,74.49 149.04,75.63 150.09,76.2 C151.13,76.76 151.65,77.03 153.22,77.22 C154.79,77.42 157.05,77.62 159.49,77.38 C161.93,77.14 167.15,75.74 167.85,75.81 C168.55,75.87 165.41,77.18 163.67,77.77 C161.93,78.37 160.57,79.02 157.4,79.35 C154.23,79.68 148.41,79.44 144.65,79.74 C140.89,80.05 138.14,80.47 134.83,81.16 C131.52,81.86 127.65,83.04 124.8,83.92 C121.94,84.8 119.5,85.93 117.69,86.44 C115.88,86.95 115.15,87.06 113.93,86.99 C112.71,86.93 111.66,86.66 110.38,86.05 C109.09,85.43 107.76,84.08 106.2,83.29 C104.63,82.5 104.63,81.73 100.97,81.32 C97.31,80.91 90.52,80.94 84.25,80.85 C77.98,80.76 70.32,80.78 63.35,80.77 C56.38,80.76 45.93,80.77 42.45,80.77" fill="none" stroke="#008000" stroke-width="2.2" stroke-linejoin="round" stroke-linecap="round"/>
<path d="M42.45,80.53 C49.42,80.51 73.8,80.44 84.25,80.37 C94.7,80.31 98.88,80.37 105.15,80.14 C111.42,79.9 117.34,79.68 121.87,78.96 C126.4,78.23 129.53,77.12 132.32,75.81 C135.11,74.49 136.85,72.65 138.59,71.08 C140.33,69.5 141.48,67.47 142.77,66.35 C144.06,65.24 145.28,64.38 146.32,64.38 C147.37,64.38 148.06,65.1 149.04,66.35 C150.02,67.6 151.13,70.4 152.18,71.87 C153.22,73.34 154.09,74.52 155.31,75.17 C156.53,75.83 157.4,76.23 159.49,75.81 C161.58,75.39 167.15,72.52 167.85,72.65 C168.55,72.79 165.41,75.54 163.67,76.59 C161.93,77.64 160.19,78.19 157.4,78.96 C154.61,79.72 149.88,80.68 146.95,81.16 C144.02,81.65 142.7,81.25 139.84,81.87 C136.99,82.49 133.12,83.62 129.81,84.86 C126.5,86.11 122.53,88.3 119.99,89.36 C117.45,90.41 115.88,90.83 114.55,91.17 C113.23,91.51 113.09,91.86 112.05,91.4 C111,90.94 109.47,89.57 108.28,88.41 C107.1,87.25 106.16,85.52 104.94,84.47 C103.72,83.42 102.68,82.66 100.97,82.11 C99.26,81.56 100.97,81.36 94.7,81.16 C88.43,80.97 72.06,80.97 63.35,80.93 C54.64,80.89 45.93,80.93 42.45,80.93" fill="none" stroke="#008080" stroke-width="2.3" stroke-linejoin="round" stroke-linecap="round"/>
<path d="M42.45,80.37 C49.42,80.36 73.8,80.34 84.25,80.3 C94.7,80.26 98.88,80.36 105.15,80.14 C111.42,79.91 117.34,79.81 121.87,78.96 C126.4,78.1 129.53,76.72 132.32,75.02 C135.11,73.31 136.85,70.78 138.59,68.72 C140.33,66.65 141.48,65.18 142.77,62.65 C144.06,60.11 144.89,55.95 146.32,53.51 C147.75,51.07 149.98,48.61 151.34,48 C152.7,47.38 153.5,48.59 154.47,49.81 C155.45,51.03 155.97,52.88 157.19,55.32 C158.41,57.76 160.71,62.1 161.79,64.46 C162.87,66.82 163.01,68.66 163.67,69.5 C164.33,70.34 164.96,69.9 165.76,69.5 C166.56,69.11 168.48,66.61 168.48,67.14 C168.48,67.66 167.05,70.71 165.76,72.65 C164.47,74.6 163.11,77.33 160.74,78.8 C158.38,80.27 154.23,80.79 151.55,81.48 C148.87,82.16 146.6,82.41 144.65,82.9 C142.7,83.38 142.32,83.39 139.84,84.39 C137.37,85.39 132.32,87.78 129.81,88.88 C127.3,89.99 126.47,90.16 124.8,91.01 C123.12,91.86 121.42,92.94 119.78,94 C118.14,95.07 116.61,96.33 114.97,97.39 C113.34,98.45 111.59,100.44 109.96,100.38 C108.32,100.33 106.65,98.68 105.15,97.08 C103.65,95.47 102.19,92.61 100.97,90.77 C99.75,88.94 99.05,87.36 97.83,86.05 C96.62,84.73 95.92,83.66 93.66,82.9 C91.39,82.13 92.78,81.74 84.25,81.48 C75.72,81.21 49.42,81.35 42.45,81.32" fill="none" stroke="#0000a0" stroke-width="2.5" stroke-linejoin="round" stroke-linecap="round"/>
<path d="M42.45,80.93 C49.42,80.86 73.8,80.66 84.25,80.53 C94.7,80.4 99.23,80.34 105.15,80.14 C111.07,79.94 115.95,79.74 119.78,79.35 C123.61,78.96 125.7,78.76 128.14,77.77 C130.58,76.79 132.42,75.66 134.41,73.44 C136.4,71.22 138.35,68.1 140.05,64.46 C141.76,60.82 143.29,55.28 144.65,51.62 C146.01,47.96 146.88,45.41 148.2,42.48 C149.53,39.55 151.13,35.94 152.59,34.05 C154.06,32.16 155.48,31.14 156.98,31.14 C158.48,31.14 160.15,32.16 161.58,34.05 C163.01,35.94 164.44,39.55 165.55,42.48 C166.67,45.41 167.82,50.1 168.27,51.62" fill="none" stroke="#ff8000" stroke-width="2.6" stroke-linejoin="round" stroke-linecap="round"/>
<path d="M168.27,70.29 C167.5,70.95 166.28,72.26 163.67,74.23 C161.06,76.2 155.76,80.41 152.59,82.11 C149.42,83.8 146.78,83.76 144.65,84.39 C142.53,85.02 142.32,84.64 139.84,85.89 C137.37,87.14 132.32,89.96 129.81,91.88 C127.3,93.79 126.47,95.55 124.8,97.39 C123.12,99.23 121.42,101.07 119.78,102.91 C118.14,104.74 116.54,107.09 114.97,108.42 C113.41,109.75 111.73,110.39 110.38,110.86 C109.02,111.33 108.04,111.58 106.82,111.26 C105.6,110.93 104.21,110.21 103.06,108.89 C101.91,107.58 100.97,105.35 99.92,103.38 C98.88,101.41 97.66,98.72 96.79,97.08 C95.92,95.43 95.57,95.04 94.7,93.53 C93.83,92.02 92.78,89.46 91.56,88.02 C90.35,86.57 90.35,85.65 87.39,84.86 C84.42,84.08 81.29,83.68 73.8,83.29 C66.31,82.9 47.68,82.63 42.45,82.5" fill="none" stroke="#ff8000" stroke-width="2.6" stroke-linejoin="round" stroke-linecap="round"/>
<path d="M168.27,51.62 C168.27,54.73 168.27,67.18 168.27,70.29" fill="none" stroke="#ff8000" stroke-width="2.0" stroke-linejoin="round" stroke-linecap="butt" stroke-dasharray="1,1"/>
<path d="M42.45,81.32 C45.93,81.27 56.38,81.11 63.35,81 C70.32,80.9 77.28,80.82 84.25,80.69 C91.22,80.56 99.23,80.51 105.15,80.22 C111.07,79.93 116.05,79.49 119.78,78.96 C123.51,78.42 125.6,77.91 127.51,76.99 C129.43,76.07 130.09,74.93 131.27,73.44 C132.46,71.96 133.33,70.5 134.62,68.08 C135.91,65.67 137.51,62.6 139.01,58.95 C140.51,55.3 142.07,50.45 143.61,46.18 C145.14,41.92 146.71,36.81 148.2,33.34 C149.7,29.88 151.13,27.15 152.59,25.39 C154.06,23.63 155.55,22.85 156.98,22.79 C158.41,22.72 159.91,23.84 161.16,24.99 C162.42,26.15 163.5,27.41 164.51,29.72 C165.52,32.03 166.56,35.51 167.22,38.86 C167.88,42.21 168.27,47.98 168.48,49.81" fill="none" stroke="#8800ff" stroke-width="2.8" stroke-linejoin="round" stroke-linecap="round"/>
<path d="M168.48,69.5 C168.27,69.63 168.51,68.95 167.22,70.29 C165.93,71.63 163.36,75.36 160.74,77.54 C158.13,79.72 154.23,81.98 151.55,83.37 C148.87,84.76 147.44,84.16 144.65,85.89 C141.86,87.62 137.93,91.25 134.83,93.77 C131.73,96.29 128.56,98.65 126.05,101.01 C123.54,103.38 121.63,105.98 119.78,107.95 C117.93,109.92 116.64,111.56 114.97,112.83 C113.3,114.11 111.18,115.13 109.75,115.59 C108.32,116.05 107.52,116.05 106.4,115.59 C105.29,115.13 104.04,114.08 103.06,112.83 C102.08,111.58 101.53,110.21 100.55,108.1 C99.58,106 98.18,102.39 97.21,100.23 C96.23,98.06 95.64,97.08 94.7,95.11 C93.76,93.14 92.78,89.99 91.56,88.41 C90.35,86.83 90.35,86.37 87.39,85.65 C84.42,84.93 81.29,84.43 73.8,84.08 C66.31,83.72 47.68,83.62 42.45,83.53" fill="none" stroke="#8800ff" stroke-width="2.8" stroke-linejoin="round" stroke-linecap="round"/>
<path d="M168.48,49.81 C168.48,53.09 168.48,66.22 168.48,69.5" fill="none" stroke="#8800ff" stroke-width="2.0" stroke-linejoin="round" stroke-linecap="butt" stroke-dasharray="1,1"/>
<path d="M224.5,78.61 C231.29,78.61 255.09,78.54 265.28,78.61 C275.48,78.69 279.9,78.96 285.68,79.07 C291.45,79.19 295.87,79.42 299.95,79.3 C304.03,79.19 307.09,78.96 310.15,78.38 C313.21,77.81 316.09,76.81 318.3,75.85 C320.51,74.89 321.91,73.6 323.4,72.63 C324.9,71.67 326.09,70.29 327.28,70.06 C328.47,69.83 329.32,70.75 330.54,71.25 C331.76,71.76 332.92,72.86 334.62,73.09 C336.32,73.32 338.7,73.09 340.74,72.63 C342.77,72.17 346.51,70.1 346.85,70.33 C347.19,70.56 344.47,73.02 342.77,74.01 C341.08,75.01 339.38,75.7 336.66,76.31 C333.94,76.93 329.28,77.37 326.46,77.69 C323.64,78.01 322.11,77.6 319.73,78.24 C317.35,78.89 314.36,80.83 312.19,81.56 C310.01,82.28 308.52,82.57 306.68,82.57 C304.84,82.57 303.18,81.56 301.17,81.56 C299.17,81.56 296.65,82.3 294.65,82.57 C292.64,82.84 290.98,83.52 289.14,83.16 C287.31,82.81 285.91,81.13 283.64,80.45 C281.36,79.77 280.24,79.34 275.48,79.07 C270.72,78.8 263.58,78.88 255.09,78.84 C246.59,78.8 229.59,78.84 224.5,78.84" fill="none" stroke="#008000" stroke-width="2.3" stroke-linejoin="round" stroke-linecap="round"/>
<path d="M224.5,78.61 C231.29,78.61 255.09,78.42 265.28,78.61 C275.48,78.8 279.9,79.42 285.68,79.76 C291.45,80.11 295.87,80.68 299.95,80.68 C304.03,80.68 307.09,80.57 310.15,79.76 C313.21,78.96 315.92,77.58 318.3,75.85 C320.68,74.13 322.72,71.14 324.42,69.41 C326.12,67.69 327.31,65.89 328.5,65.51 C329.69,65.12 330.54,66.23 331.56,67.11 C332.58,68 333.43,70.26 334.62,70.79 C335.81,71.33 336.66,71.02 338.7,70.33 C340.74,69.64 346.17,66.35 346.85,66.66 C347.53,66.96 344.47,70.72 342.77,72.17 C341.08,73.63 338.7,74.63 336.66,75.39 C334.62,76.16 332.61,76.39 330.54,76.77 C328.47,77.16 326.39,77.08 324.22,77.69 C322.04,78.31 319.7,79.54 317.49,80.45 C315.28,81.36 312.97,82.45 310.96,83.16 C308.96,83.88 307.26,84.64 305.46,84.73 C303.65,84.81 301.79,83.75 300.15,83.67 C298.52,83.59 297.3,83.99 295.67,84.27 C294.04,84.54 292.17,85.33 290.37,85.33 C288.56,85.33 286.69,84.9 284.86,84.27 C283.02,83.64 281.53,82.38 279.35,81.56 C277.18,80.74 275.85,79.8 271.81,79.35 C267.76,78.9 262.97,78.93 255.09,78.84 C247.2,78.76 229.59,78.84 224.5,78.84" fill="none" stroke="#008080" stroke-width="2.3" stroke-linejoin="round" stroke-linecap="round"/>
<path d="M224.5,78.61 C231.29,78.57 255.09,78.46 265.28,78.38 C275.48,78.31 279.86,78.27 285.68,78.15 C291.49,78.04 295.53,78.26 300.15,77.69 C304.78,77.13 310.04,75.9 313.41,74.75 C316.77,73.6 318.37,72.13 320.34,70.79 C322.31,69.46 323.61,68.74 325.24,66.75 C326.87,64.75 328.57,61.08 330.13,58.84 C331.69,56.6 333.36,53.86 334.62,53.32 C335.88,52.78 336.62,54.54 337.68,55.62 C338.73,56.69 339.92,59.37 340.94,59.76 C341.96,60.14 342.81,59.07 343.79,57.92 C344.78,56.77 346.51,52.48 346.85,52.86 C347.19,53.24 346.55,57.23 345.83,60.22 C345.12,63.21 343.96,68 342.57,70.79 C341.18,73.58 340.16,75.42 337.47,76.96 C334.79,78.49 329.25,79.33 326.46,79.99 C323.67,80.65 322.79,80.12 320.75,80.91 C318.71,81.7 316.2,83.46 314.23,84.73 C312.25,86 310.72,87.23 308.92,88.55 C307.12,89.86 305.63,92.19 303.42,92.64 C301.21,93.09 298.01,91.57 295.67,91.26 C293.32,90.95 291.83,91.06 289.35,90.8 C286.86,90.54 283.3,90.53 280.78,89.7 C278.27,88.86 276.16,87.1 274.25,85.79 C272.35,84.48 270.86,82.8 269.36,81.83 C267.87,80.87 267.66,80.45 265.28,79.99 C262.9,79.53 261.88,79.23 255.09,79.07 C248.29,78.92 229.59,79.07 224.5,79.07" fill="none" stroke="#0000a0" stroke-width="2.3" stroke-linejoin="round" stroke-linecap="round"/>
<path d="M224.5,78.38 C231.29,78.34 255.09,78.23 265.28,78.15 C275.48,78.08 279.86,78.08 285.68,77.92 C291.49,77.77 296.08,77.73 300.15,77.23 C304.23,76.73 307.5,75.7 310.15,74.93 C312.8,74.17 314.36,73.78 316.06,72.63 C317.76,71.48 319.02,69.89 320.34,68.03 C321.67,66.18 322.52,64.57 324.01,61.5 C325.51,58.44 327.48,53.3 329.32,49.64 C331.15,45.98 333.63,41.13 335.03,39.52 C336.42,37.91 336.9,39.45 337.68,39.98 C338.46,40.52 338.8,41.71 339.72,42.74 C340.63,43.78 341.93,46.04 343.18,46.19 C344.44,46.34 346.65,43.24 347.26,43.66 C347.87,44.08 347.4,45.96 346.85,48.72 C346.31,51.48 345.36,56.54 344,60.22 C342.64,63.9 340.46,67.94 338.7,70.79 C336.93,73.65 335.67,75.65 333.39,77.37 C331.12,79.09 327.58,80.01 325.03,81.14 C322.48,82.27 320.24,82.81 318.1,84.13 C315.96,85.45 314.19,87.07 312.19,89.05 C310.18,91.04 307.84,93.72 306.07,96.04 C304.3,98.36 302.94,101.99 301.58,102.99 C300.22,103.98 299.58,102.65 297.91,102.02 C296.25,101.39 293.73,100.12 291.59,99.21 C289.45,98.31 287.24,97.21 285.06,96.59 C282.89,95.97 280.71,96.2 278.54,95.49 C276.36,94.78 274.15,93.93 272.01,92.32 C269.87,90.7 267.49,87.38 265.69,85.79 C263.89,84.19 262.6,83.62 261.2,82.75 C259.81,81.88 260.05,81.08 257.33,80.54 C254.61,80.01 250.36,79.74 244.89,79.53 C239.42,79.32 227.9,79.34 224.5,79.3" fill="none" stroke="#ff8000" stroke-width="2.3" stroke-linejoin="round" stroke-linecap="round"/>
<path d="M224.5,78.38 C227.9,78.34 238.09,78.23 244.89,78.15 C251.69,78.08 258.48,78.04 265.28,77.92 C272.08,77.81 279.86,77.73 285.68,77.46 C291.49,77.19 296.42,76.89 300.15,76.31 C303.89,75.74 305.9,74.93 308.11,74.01 C310.32,73.09 311.44,72.88 313.41,70.79 C315.38,68.71 318.1,64.26 319.94,61.5 C321.77,58.75 323.06,56.6 324.42,54.24 C325.78,51.88 326.7,50.81 328.09,47.34 C329.49,43.87 331.25,37.66 332.78,33.41 C334.31,29.15 335.91,24.32 337.27,21.82 C338.63,19.31 339.75,18.37 340.94,18.37 C342.13,18.37 343.45,20.48 344.41,21.82 C345.36,23.16 346.28,25.65 346.65,26.42" fill="none" stroke="#9010ff" stroke-width="2.3" stroke-linejoin="round" stroke-linecap="round"/>
<path d="M346.65,32.62 C346.17,34.16 345.02,38.37 343.79,41.82 C342.57,45.27 340.6,50.25 339.31,53.32 C338.02,56.38 337.51,56.88 336.05,60.22 C334.58,63.56 332.88,70.05 330.54,73.37 C328.19,76.69 324.39,78 321.97,80.13 C319.56,82.26 318.03,83.5 316.06,86.15 C314.09,88.81 311.98,92.62 310.15,96.04 C308.31,99.46 306.58,103.74 305.05,106.66 C303.52,109.58 302.26,111.95 300.97,113.56 C299.68,115.17 298.49,115.98 297.3,116.32 C296.11,116.67 295.53,116.22 293.83,115.63 C292.13,115.04 288.97,113.74 287.1,112.78 C285.23,111.82 284.04,110.78 282.62,109.88 C281.19,108.99 279.9,108.09 278.54,107.4 C277.18,106.71 275.89,106.47 274.46,105.74 C273.03,105.02 271.81,104.6 269.97,103.08 C268.14,101.55 265.59,99.11 263.45,96.59 C261.31,94.08 258.86,90.07 257.12,87.99 C255.39,85.92 254.13,85.11 253.05,84.13 C251.96,83.15 251.96,82.76 250.6,82.11 C249.24,81.46 249.24,80.65 244.89,80.22 C240.54,79.79 227.9,79.65 224.5,79.53" fill="none" stroke="#9010ff" stroke-width="2.3" stroke-linejoin="round" stroke-linecap="round"/>
<path d="M346.65,26.42 C346.65,27.45 346.65,31.59 346.65,32.62" fill="none" stroke="#9010ff" stroke-width="1.9" stroke-linejoin="round" stroke-linecap="butt" stroke-dasharray="1,1"/>
<path d="M406.46,73.37 C413.36,73.35 437.53,73.3 447.89,73.24 C458.24,73.19 459.97,73.16 468.6,73.05 C477.23,72.95 491.04,72.77 499.67,72.61 C508.3,72.45 515.21,72.27 520.39,72.1 C525.56,71.93 529.02,71.46 530.74,71.59 C532.47,71.72 534.2,72.53 530.74,72.86 C527.29,73.19 516.93,73.4 510.03,73.56 C503.12,73.72 499.67,73.74 489.31,73.82 C478.96,73.89 461.7,73.98 447.89,74.01 C434.08,74.04 413.36,74.01 406.46,74.01" fill="none" stroke="#ff8000" stroke-width="1.6" stroke-linejoin="round" stroke-linecap="round"/>
<path d="M406.46,74.01 C409.91,73.96 420.27,73.8 427.17,73.69 C434.08,73.58 440.98,73.48 447.89,73.37 C454.79,73.27 463.25,73.16 468.6,73.05 C473.95,72.95 476.89,73.05 479.99,72.74 C483.1,72.42 484.93,71.93 487.24,71.14 C489.56,70.36 491.42,69.89 493.87,68.02 C496.32,66.15 499.64,63.03 501.95,59.93 C504.26,56.83 505.99,52.69 507.75,49.41 C509.51,46.13 511.13,42.74 512.51,40.24 C513.9,37.73 514.79,35.63 516.04,34.37 C517.28,33.12 518.63,32.53 519.97,32.72 C521.32,32.91 522.84,33.89 524.11,35.52 C525.39,37.16 526.67,40.01 527.64,42.53 C528.6,45.05 529.36,48.88 529.91,50.62 C530.47,52.37 530.98,52.01 530.95,52.98 C530.92,53.95 530.4,54.17 529.71,56.42 C529.02,58.67 528.15,63.41 526.81,66.49 C525.46,69.57 523.39,73.22 521.63,74.9 C519.87,76.58 518.18,76.23 516.24,76.56 C514.31,76.89 511.89,76.74 510.03,76.88 C508.16,77.02 506.78,76.91 505.06,77.39 C503.33,77.86 501.47,78.85 499.67,79.74 C497.88,80.64 496.01,81.46 494.29,82.74 C492.56,84.01 491.11,85.78 489.31,87.39 C487.52,89.01 485.41,90.94 483.51,92.43 C481.62,93.91 479.72,95.3 477.92,96.31 C476.13,97.32 474.54,98.58 472.74,98.48 C470.95,98.37 469.33,97.4 467.15,95.67 C464.98,93.95 461.7,90.39 459.69,88.16 C457.69,85.93 456.59,83.93 455.14,82.29 C453.69,80.66 452.55,79.4 450.99,78.34 C449.44,77.28 448.06,76.48 445.81,75.92 C443.57,75.36 444.09,75.12 437.53,74.97 C430.97,74.81 411.64,74.97 406.46,74.97" fill="none" stroke="#8800ff" stroke-width="2.3" stroke-linejoin="round" stroke-linecap="round"/>
<path d="M406.46,74.01 C409.91,73.96 420.27,73.8 427.17,73.69 C434.08,73.58 440.98,73.58 447.89,73.37 C454.79,73.16 463.25,72.84 468.6,72.42 C473.95,71.99 476.54,71.76 479.99,70.82 C483.45,69.89 486.62,68.62 489.31,66.81 C492.01,64.99 494.04,62.42 496.15,59.93 C498.26,57.43 500.19,54.73 501.95,51.83 C503.71,48.93 505.16,46.01 506.71,42.53 C508.27,39.05 509.93,34.23 511.27,30.93 C512.62,27.64 513.62,24.79 514.79,22.78 C515.97,20.76 517.14,19.34 518.31,18.83 C519.49,18.32 520.7,18.56 521.84,19.72 C522.98,20.88 524.18,24.49 525.15,25.77 C526.12,27.06 526.74,27.43 527.64,27.43 C528.53,27.43 530.05,26.05 530.54,25.77" fill="none" stroke="#ff0080" stroke-width="2.3" stroke-linejoin="round" stroke-linecap="round"/>
<path d="M530.54,40.24 C529.81,42.93 527.88,51.8 526.19,56.42 C524.49,61.04 522.08,65.45 520.39,67.96 C518.69,70.46 517.76,70.35 516.04,71.46 C514.31,72.58 511.86,73.66 510.03,74.65 C508.2,75.63 506.61,76.54 505.06,77.39 C503.5,78.24 502.12,78.67 500.71,79.74 C499.29,80.82 498.36,81.35 496.56,83.82 C494.77,86.3 491.66,91.45 489.94,94.59 C488.21,97.74 487.28,100.8 486.21,102.68 C485.14,104.56 484.55,105.55 483.51,105.87 C482.48,106.19 481.06,105.03 479.99,104.6 C478.92,104.16 478.65,104.13 477.09,103.26 C475.54,102.39 473.19,100.38 470.67,99.37 C468.15,98.36 464.53,98.36 461.97,97.2 C459.42,96.05 457.17,94.49 455.34,92.43 C453.51,90.36 452.06,86.64 450.99,84.84 C449.92,83.05 449.78,82.82 448.92,81.66 C448.06,80.49 446.88,78.74 445.81,77.83 C444.74,76.93 445.61,76.72 442.5,76.24 C439.39,75.76 433.18,75.23 427.17,74.97 C421.16,74.7 409.91,74.7 406.46,74.65" fill="none" stroke="#ff0080" stroke-width="2.3" stroke-linejoin="round" stroke-linecap="round"/>
<path d="M530.54,25.77 C530.54,28.18 530.54,37.83 530.54,40.24" fill="none" stroke="#ff0080" stroke-width="1.9" stroke-linejoin="round" stroke-linecap="butt" stroke-dasharray="1,1"/>
<circle cx="47.86" cy="266.05" r="2.3" fill="#22e022"/>
<circle cx="73.4" cy="239.25" r="2.3" fill="#22e022"/>
<circle cx="107.22" cy="221.69" r="2.3" fill="#22e022"/>
<circle cx="132.42" cy="209.04" r="2.3" fill="#22e022"/>
<circle cx="158.04" cy="192.4" r="2.3" fill="#22e022"/>
<path d="M47.86,245.65 L50.66,250.5 L45.06,250.5 Z" fill="#0000ff"/>
<path d="M73.4,223.35 L76.2,228.2 L70.6,228.2 Z" fill="#0000ff"/>
<path d="M107.22,207.04 L110.02,211.89 L104.42,211.89 Z" fill="#0000ff"/>
<path d="M132,189.56 L134.8,194.41 L129.2,194.41 Z" fill="#0000ff"/>
<path d="M158.04,169.59 L160.84,174.44 L155.24,174.44 Z" fill="#0000ff"/>
<line x1="44.82" y1="251.15" x2="166.24" y2="167.6" stroke="#ff0000" stroke-width="1.35"/>
<line x1="44.14" y1="267.79" x2="164.55" y2="184.75" stroke="#000000" stroke-width="1.35"/>
<circle cx="45" cy="169.3" r="1.9" fill="#22e022"/>
<path d="M45,173.63 L47.3,177.61 L42.7,177.61 Z" fill="#0000ff"/>
<text x="54.1" y="168.6" font-size="6.0" font-weight="normal" text-anchor="start" fill="#1a1a1a" font-family='"Liberation Serif", serif' dominant-baseline="central" textLength="7.6" lengthAdjust="spacingAndGlyphs">CN</text>
<text x="54.1" y="175.5" font-size="6.0" font-weight="normal" text-anchor="start" fill="#1a1a1a" font-family='"Liberation Serif", serif' dominant-baseline="central" textLength="28.9" lengthAdjust="spacingAndGlyphs">CeQDs/CN-3</text>
<rect x="225.24" y="198.66" width="5.98" height="80.04" fill="#ff8000" stroke="#5a3000" stroke-width="0.35"/>
<rect x="225.24" y="179.76" width="5.98" height="18.9" fill="#8c00ff" stroke="#300060" stroke-width="0.35"/>
<rect x="231.41" y="193.81" width="5.98" height="84.89" fill="#ff8000" stroke="#5a3000" stroke-width="0.35"/>
<rect x="231.41" y="179.76" width="5.98" height="14.05" fill="#8c00ff" stroke="#300060" stroke-width="0.35"/>
<rect x="249.9" y="189.16" width="5.98" height="89.54" fill="#ff8000" stroke="#5a3000" stroke-width="0.35"/>
<rect x="249.9" y="179.76" width="5.98" height="9.4" fill="#8c00ff" stroke="#300060" stroke-width="0.35"/>
<rect x="280.73" y="186.68" width="5.98" height="92.02" fill="#ff8000" stroke="#5a3000" stroke-width="0.35"/>
<rect x="280.73" y="179.76" width="5.98" height="6.93" fill="#8c00ff" stroke="#300060" stroke-width="0.35"/>
<rect x="342.38" y="184.51" width="5.98" height="94.19" fill="#ff8000" stroke="#5a3000" stroke-width="0.35"/>
<rect x="342.38" y="179.76" width="5.98" height="4.75" fill="#8c00ff" stroke="#300060" stroke-width="0.35"/>
<rect x="298" y="163.2" width="11.9" height="4.0" fill="#ff8000"/>
<rect x="298" y="170.7" width="11.9" height="3.9" fill="#8c00ff"/>
<text x="311.7" y="164.6" font-size="6.0" font-weight="normal" text-anchor="start" fill="#1a1a1a" font-family='"Liberation Serif", serif' dominant-baseline="central" textLength="21.2" lengthAdjust="spacingAndGlyphs">Capacitive</text>
<text x="311.7" y="172" font-size="6.0" font-weight="normal" text-anchor="start" fill="#1a1a1a" font-family='"Liberation Serif", serif' dominant-baseline="central" textLength="19.5" lengthAdjust="spacingAndGlyphs">Diffusion</text>
<text x="262" y="166.6" font-size="6.2" font-weight="normal" text-anchor="middle" fill="#1a1a1a" font-family='"Liberation Serif", serif' dominant-baseline="central" textLength="26.9" lengthAdjust="spacingAndGlyphs">CeQDs/CN</text>
<path d="M409.41,234.9 C412.85,234.82 423.24,234.59 430.04,234.39 C436.85,234.19 443.59,233.97 450.26,233.68 C456.93,233.39 464.11,233.27 470.06,232.66 C476.01,232.05 481.55,231.07 485.95,230.01 C490.35,228.96 493.82,227.82 496.47,226.35 C499.11,224.87 500.04,224.14 501.83,221.16 C503.62,218.17 505.44,213.11 507.19,208.43 C508.95,203.75 510.94,197.54 512.35,193.06 C513.76,188.58 514.69,184.03 515.65,181.55 C516.61,179.08 517.13,178.19 518.13,178.19 C519.12,178.19 520.57,179.57 521.63,181.55 C522.7,183.54 523.56,187.95 524.52,190.1 C525.48,192.26 526.52,194.14 527.41,194.48 C528.3,194.82 529.13,193.55 529.89,192.14 C530.64,190.73 531.33,188.24 531.95,186.03 C532.57,183.83 533.36,179.25 533.6,178.91 C533.84,178.57 533.56,180.79 533.39,184 C533.22,187.2 533.08,192.8 532.57,198.15 C532.05,203.49 531.43,210.96 530.3,216.07 C529.16,221.17 527.34,225.82 525.76,228.79 C524.18,231.76 522.6,232.59 520.81,233.88 C519.02,235.17 517.1,235.77 515.03,236.53 C512.97,237.29 510.39,237.72 508.43,238.46 C506.47,239.21 504.65,239.91 503.27,241.01 C501.9,242.11 501.21,243.38 500.18,245.08 C499.15,246.78 498.12,248.98 497.09,251.19 C496.05,253.4 495.02,256.11 493.99,258.32 C492.96,260.52 491.72,263.15 490.9,264.42 C490.07,265.7 489.83,266.04 489.04,265.95 C488.25,265.87 487.12,264.54 486.15,263.92 C485.19,263.29 484.57,262.88 483.26,262.18 C481.96,261.49 480.24,260.15 478.31,259.74 C476.39,259.33 473.64,260.03 471.71,259.74 C469.79,259.45 468.14,259.22 466.76,258.01 C465.39,256.81 464.56,255.02 463.46,252.51 C462.36,250 461.26,245.2 460.16,242.94 C459.06,240.69 458.51,239.94 456.86,238.97 C455.21,238.01 454.73,237.61 450.26,237.14 C445.79,236.66 436.85,236.36 430.04,236.12 C423.24,235.88 412.85,235.78 409.41,235.71 Z" fill="#ff78fa" stroke="none"/>
<path d="M409.41,234.9 C412.85,234.81 423.24,234.58 430.04,234.37 C436.85,234.16 443.59,233.93 450.26,233.63 C456.93,233.34 464.11,233.21 470.06,232.58 C476.01,231.95 481.55,230.93 485.95,229.84 C490.35,228.75 493.82,227.57 496.47,226.04 C499.11,224.51 500.04,223.75 501.83,220.66 C503.62,217.56 505.44,212.32 507.19,207.47 C508.95,202.62 510.94,196.18 512.35,191.54 C513.76,186.9 514.69,182.19 515.65,179.62 C516.61,177.05 517.13,176.14 518.13,176.14 C519.12,176.14 520.57,177.56 521.63,179.62 C522.7,181.68 523.56,186.25 524.52,188.48 C525.48,190.71 526.52,192.66 527.41,193.02 C528.3,193.37 529.13,192.05 529.89,190.59 C530.64,189.13 531.33,186.55 531.95,184.26 C532.57,181.97 533.36,177.23 533.6,176.88 C533.84,176.52 533.56,178.83 533.39,182.15 C533.22,185.47 533.08,191.28 532.57,196.81 C532.05,202.35 531.43,210.09 530.3,215.38 C529.16,220.68 527.34,225.49 525.76,228.57 C524.18,231.65 522.6,232.51 520.81,233.85 C519.02,235.18 517.1,235.8 515.03,236.59 C512.97,237.38 510.39,237.82 508.43,238.59 C506.47,239.37 504.65,240.09 503.27,241.23 C501.9,242.37 501.21,243.69 500.18,245.45 C499.15,247.21 498.12,249.49 497.09,251.78 C496.05,254.07 495.02,256.88 493.99,259.17 C492.96,261.45 491.72,264.18 490.9,265.5 C490.07,266.81 489.83,267.17 489.04,267.08 C488.25,266.99 487.12,265.62 486.15,264.97 C485.19,264.32 484.57,263.89 483.26,263.17 C481.96,262.45 480.24,261.06 478.31,260.64 C476.39,260.22 473.64,260.94 471.71,260.64 C469.79,260.34 468.14,260.1 466.76,258.85 C465.39,257.6 464.56,255.75 463.46,253.15 C462.36,250.55 461.26,245.57 460.16,243.23 C459.06,240.9 458.51,240.12 456.86,239.12 C455.21,238.12 454.73,237.71 450.26,237.22 C445.79,236.73 436.85,236.41 430.04,236.17 C423.24,235.92 412.85,235.81 409.41,235.74" fill="none" stroke="#ff8800" stroke-width="1.4" stroke-linejoin="round"/>
<line x1="406.5" y1="171.2" x2="411.2" y2="171.2" stroke="#ff8800" stroke-width="1.3"/>
<line x1="414.6" y1="171.2" x2="419.6" y2="171.2" stroke="#ff8800" stroke-width="1.3"/>
<rect x="412.2" y="170.5" width="1.4" height="1.4" fill="#ff8800"/>
<line x1="406.5" y1="178.2" x2="411.2" y2="178.2" stroke="#f5c0f0" stroke-width="1.2"/>
<line x1="414.6" y1="178.2" x2="419.6" y2="178.2" stroke="#f5c0f0" stroke-width="1.2"/>
<rect x="412.3" y="177.6" width="1.2" height="1.2" fill="#f0a8ec"/>
<text x="421.1" y="170.9" font-size="6.8" font-weight="normal" text-anchor="start" fill="#1a1a1a" font-family='"Liberation Serif", serif' dominant-baseline="central" textLength="38.5" lengthAdjust="spacingAndGlyphs">Total contribution</text>
<text x="421.1" y="177.7" font-size="6.8" font-weight="normal" text-anchor="start" fill="#1a1a1a" font-family='"Liberation Serif", serif' dominant-baseline="central" textLength="48.7" lengthAdjust="spacingAndGlyphs">Capacitive contribution</text>
<circle cx="47.8" cy="22.9" r="1.25" fill="#008000"/>
<text x="55.9" y="22" font-size="6.3" font-weight="normal" text-anchor="start" fill="#1a1a1a" font-family='"Liberation Serif", serif' dominant-baseline="central" textLength="15.5" lengthAdjust="spacingAndGlyphs">1 mV/s</text>
<line x1="41.6" y1="29.8" x2="53.5" y2="29.8" stroke="#7fd0d0" stroke-width="1" stroke-dasharray="2.5,1"/>
<circle cx="47.8" cy="29.8" r="1.25" fill="#008080"/>
<text x="55.9" y="28.9" font-size="6.3" font-weight="normal" text-anchor="start" fill="#1a1a1a" font-family='"Liberation Serif", serif' dominant-baseline="central" textLength="15.5" lengthAdjust="spacingAndGlyphs">2 mV/s</text>
<circle cx="47.8" cy="36.8" r="1.25" fill="#0000a0"/>
<text x="55.9" y="35.9" font-size="6.3" font-weight="normal" text-anchor="start" fill="#1a1a1a" font-family='"Liberation Serif", serif' dominant-baseline="central" textLength="15.5" lengthAdjust="spacingAndGlyphs">5 mV/s</text>
<line x1="41.6" y1="43.8" x2="53.5" y2="43.8" stroke="#ffd0a0" stroke-width="1" stroke-dasharray="2.5,1"/>
<circle cx="47.8" cy="43.8" r="1.25" fill="#ff8000"/>
<text x="55.9" y="42.9" font-size="6.3" font-weight="normal" text-anchor="start" fill="#1a1a1a" font-family='"Liberation Serif", serif' dominant-baseline="central" textLength="18.5" lengthAdjust="spacingAndGlyphs">10 mV/s</text>
<line x1="41.6" y1="50.7" x2="53.5" y2="50.7" stroke="#d0a0ff" stroke-width="1" stroke-dasharray="2.5,1"/>
<circle cx="47.8" cy="50.7" r="1.25" fill="#8800ff"/>
<text x="55.9" y="49.8" font-size="6.3" font-weight="normal" text-anchor="start" fill="#1a1a1a" font-family='"Liberation Serif", serif' dominant-baseline="central" textLength="18.5" lengthAdjust="spacingAndGlyphs">20 mV/s</text>
<line x1="228.3" y1="21.5" x2="233.6" y2="21.5" stroke="#008000" stroke-width="1.5"/>
<line x1="236.4" y1="21.5" x2="241.8" y2="21.5" stroke="#008000" stroke-width="1.5"/>
<ellipse cx="235.0" cy="21.5" rx="0.9" ry="1.5" fill="#008000"/>
<text x="242.9" y="20.6" font-size="6.3" font-weight="normal" text-anchor="start" fill="#1a1a1a" font-family='"Liberation Serif", serif' dominant-baseline="central" textLength="15.4" lengthAdjust="spacingAndGlyphs">1 mV/s</text>
<line x1="228.3" y1="28.5" x2="233.6" y2="28.5" stroke="#008080" stroke-width="1.5"/>
<line x1="236.4" y1="28.5" x2="241.8" y2="28.5" stroke="#008080" stroke-width="1.5"/>
<ellipse cx="235.0" cy="28.5" rx="0.9" ry="1.5" fill="#008080"/>
<text x="242.9" y="27.6" font-size="6.3" font-weight="normal" text-anchor="start" fill="#1a1a1a" font-family='"Liberation Serif", serif' dominant-baseline="central" textLength="15.4" lengthAdjust="spacingAndGlyphs">2 mV/s</text>
<line x1="228.3" y1="35.1" x2="233.6" y2="35.1" stroke="#0000a0" stroke-width="1.5"/>
<line x1="236.4" y1="35.1" x2="241.8" y2="35.1" stroke="#0000a0" stroke-width="1.5"/>
<ellipse cx="235.0" cy="35.1" rx="0.9" ry="1.5" fill="#0000a0"/>
<text x="242.9" y="34.2" font-size="6.3" font-weight="normal" text-anchor="start" fill="#1a1a1a" font-family='"Liberation Serif", serif' dominant-baseline="central" textLength="15.4" lengthAdjust="spacingAndGlyphs">5 mV/s</text>
<line x1="228.3" y1="42.2" x2="233.6" y2="42.2" stroke="#ff8000" stroke-width="1.5"/>
<line x1="236.4" y1="42.2" x2="241.8" y2="42.2" stroke="#ff8000" stroke-width="1.5"/>
<ellipse cx="235.0" cy="42.2" rx="0.9" ry="1.5" fill="#ff8000"/>
<text x="242.9" y="41.3" font-size="6.3" font-weight="normal" text-anchor="start" fill="#1a1a1a" font-family='"Liberation Serif", serif' dominant-baseline="central" textLength="18.2" lengthAdjust="spacingAndGlyphs">10 mV/s</text>
<line x1="228.3" y1="48.4" x2="233.6" y2="48.4" stroke="#9010ff" stroke-width="1.5"/>
<line x1="236.4" y1="48.4" x2="241.8" y2="48.4" stroke="#9010ff" stroke-width="1.5"/>
<ellipse cx="235.0" cy="48.4" rx="0.9" ry="1.5" fill="#9010ff"/>
<text x="242.9" y="47.5" font-size="6.3" font-weight="normal" text-anchor="start" fill="#1a1a1a" font-family='"Liberation Serif", serif' dominant-baseline="central" textLength="18.2" lengthAdjust="spacingAndGlyphs">20 mV/s</text>
<line x1="408.2" y1="23.7" x2="412.6" y2="23.7" stroke="#ff8000" stroke-width="1.1"/>
<line x1="417.0" y1="23.7" x2="421.5" y2="23.7" stroke="#ff8000" stroke-width="1.1"/>
<rect x="413.7" y="22.599999999999998" width="2.2" height="2.2" fill="#ff8000"/>
<text x="422.8" y="23.25" font-size="6.3" font-weight="normal" text-anchor="start" fill="#1a1a1a" font-family='"Liberation Serif", serif' dominant-baseline="central" textLength="18.0" lengthAdjust="spacingAndGlyphs">Ni foam</text>
<line x1="408.2" y1="30.3" x2="412.6" y2="30.3" stroke="#8800ff" stroke-width="1.1"/>
<line x1="417.0" y1="30.3" x2="421.5" y2="30.3" stroke="#8800ff" stroke-width="1.1"/>
<rect x="413.7" y="29.2" width="2.2" height="2.2" fill="#8800ff"/>
<text x="422.8" y="29.85" font-size="6.3" font-weight="normal" text-anchor="start" fill="#1a1a1a" font-family='"Liberation Serif", serif' dominant-baseline="central" textLength="7.5" lengthAdjust="spacingAndGlyphs">CN</text>
<line x1="408.2" y1="36.9" x2="412.6" y2="36.9" stroke="#ff0080" stroke-width="1.1"/>
<line x1="417.0" y1="36.9" x2="421.5" y2="36.9" stroke="#ff0080" stroke-width="1.1"/>
<rect x="413.7" y="35.8" width="2.2" height="2.2" fill="#ff0080"/>
<text x="422.8" y="36.45" font-size="6.3" font-weight="normal" text-anchor="start" fill="#1a1a1a" font-family='"Liberation Serif", serif' dominant-baseline="central" textLength="30.2" lengthAdjust="spacingAndGlyphs">CeQDs/CN-3</text>
</svg>
</body></html>
